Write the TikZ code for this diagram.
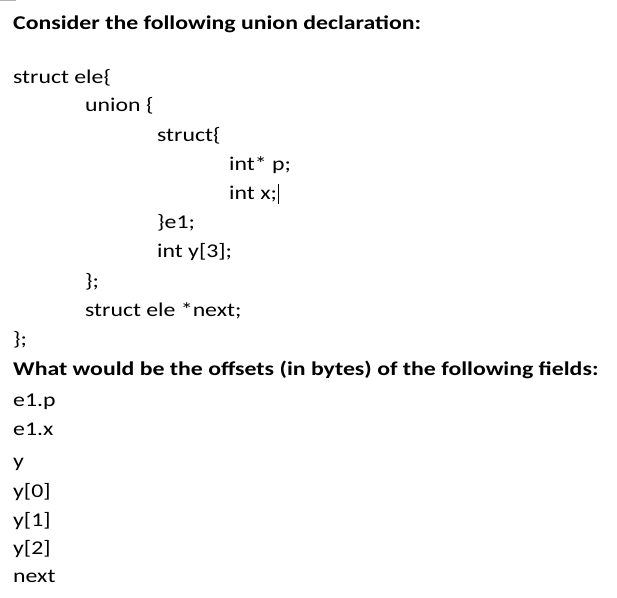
\documentclass[tikz,border=0pt]{standalone}
\usepackage{fontspec}
\setmainfont{Carlito}[FakeStretch=1.22]
\begin{document}
\begin{tikzpicture}[x=1pt,y=-1pt,
  t/.style={anchor=base west,inner sep=0pt,font=\fontsize{19.5}{23}\selectfont},
  b/.style={t,font=\fontsize{19.5}{23}\selectfont\bfseries}]
\useasboundingbox (0,0) rectangle (617,597);
\draw[gray!60,line width=0.8] (0,0.5) -- (16,0.5);
\node[b] (h1) at (13,29) {Consider the following union declaration:};
\node[t] (l1) at (13,83) {struct ele\{};
\node[t] (l2) at (85,111) {union \{};
\node[t] (l3) at (157,141) {struct\{};
\node[t] (l4) at (229,170) {int* p;};
\node[t] (l5) at (229,199) {int x;};
\draw (l5.base east) ++(1,-15) coordinate (c1) -- ++(0,20);
\node[t] (l6) at (157,228) {\}e1;};
\node[t] (l7) at (157,257) {int y[3];};
\node[t] (l8) at (85,287) {\};};
\node[t] (l9) at (85,316) {struct ele *next;};
\node[t] (l10) at (13,345) {\};};
\node[b] (h2) at (13,375) {What would be the offsets (in bytes) of the following fields:};
\node[t] (f1) at (13,406) {e1.p};
\node[t] (f2) at (13,435) {e1.x};
\node[t] (f3) at (13,467) {y};
\node[t] (f4) at (13,497) {y[0]};
\node[t] (f5) at (13,526) {y[1]};
\node[t] (f6) at (13,554) {y[2]};
\node[t] (f7) at (13,582) {next};
\end{tikzpicture}
\end{document}
